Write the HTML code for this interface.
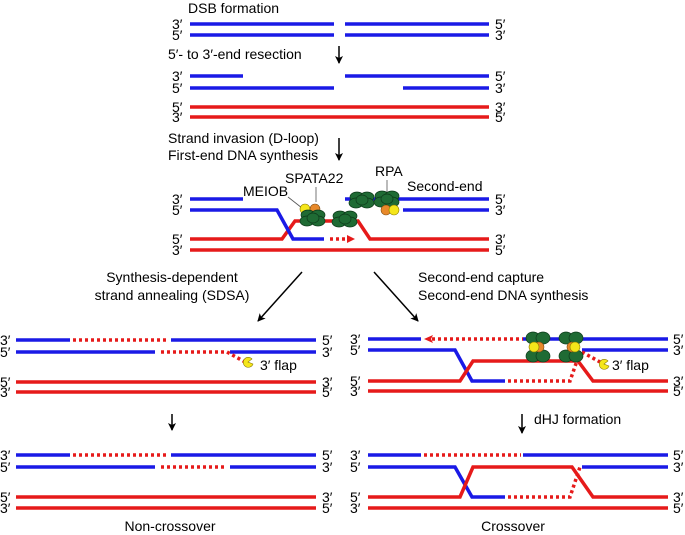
<!DOCTYPE html>
<html><head><meta charset="utf-8"><style>
html,body{margin:0;padding:0;background:#fff;}
svg{display:block;font-family:"Liberation Sans",sans-serif;font-size:14px;}
</style></head><body>
<svg width="685" height="535" viewBox="0 0 685 535" xmlns="http://www.w3.org/2000/svg">
<defs>
<marker id="ah" markerWidth="8" markerHeight="8" refX="7" refY="4" orient="auto" markerUnits="userSpaceOnUse">
<path d="M0,0 L8,4 L0,8 L2,4 Z" fill="#000"/></marker>
<g id="gr">
<ellipse cx="-5" cy="-3" rx="7" ry="5" fill="#1f6b34" stroke="#0d3a1a" stroke-width="0.7"/>
<ellipse cx="5" cy="-3" rx="7" ry="5" fill="#1f6b34" stroke="#0d3a1a" stroke-width="0.7"/>
<ellipse cx="-6" cy="3" rx="7" ry="5" fill="#1f6b34" stroke="#0d3a1a" stroke-width="0.7"/>
<ellipse cx="5" cy="3" rx="7" ry="5" fill="#1f6b34" stroke="#0d3a1a" stroke-width="0.7"/>
<ellipse cx="0" cy="0" rx="6" ry="5" fill="#1f6b34" stroke="#0d3a1a" stroke-width="0.7"/>
</g>
<g id="cl">
<ellipse cx="-5" cy="-9" rx="7" ry="6" fill="#1f6b34" stroke="#0d3a1a" stroke-width="0.7"/>
<ellipse cx="5" cy="-9" rx="7" ry="6" fill="#1f6b34" stroke="#0d3a1a" stroke-width="0.7"/>
<ellipse cx="-5" cy="9" rx="7" ry="6" fill="#1f6b34" stroke="#0d3a1a" stroke-width="0.7"/>
<ellipse cx="5" cy="9" rx="7" ry="6" fill="#1f6b34" stroke="#0d3a1a" stroke-width="0.7"/>
<circle cx="1" cy="0" r="5" fill="#e8892a" stroke="#7a4a10" stroke-width="0.6"/>
</g>
</defs>
<g fill="#000">
<text x="188" y="13">DSB formation</text>
<text x="168" y="59">5′- to 3′-end resection</text>
<text x="168" y="143">Strand invasion (D-loop)</text>
<text x="168" y="160">First-end DNA synthesis</text>
<text x="243" y="196">MEIOB</text>
<text x="285" y="183">SPATA22</text>
<text x="375" y="176">RPA</text>
<text x="407" y="191">Second-end</text>
<text x="172" y="282" text-anchor="middle">Synthesis-dependent</text>
<text x="172" y="300" text-anchor="middle">strand annealing (SDSA)</text>
<text x="418" y="282">Second-end capture</text>
<text x="418" y="300">Second-end DNA synthesis</text>
<text x="260" y="370">3′ flap</text>
<text x="612" y="370">3′ flap</text>
<text x="534" y="424">dHJ formation</text>
<text x="170" y="531" text-anchor="middle">Non-crossover</text>
<text x="513" y="531" text-anchor="middle">Crossover</text>
</g>
<g fill="#000">
<text x="172" y="29">3′</text><text x="172" y="40">5′</text><text x="495" y="29">5′</text><text x="495" y="40">3′</text>
<text x="172" y="81">3′</text><text x="172" y="93">5′</text><text x="172" y="112">5′</text><text x="172" y="122">3′</text>
<text x="495" y="81">5′</text><text x="495" y="93">3′</text><text x="495" y="112">3′</text><text x="495" y="122">5′</text>
<text x="172" y="204">3′</text><text x="172" y="215">5′</text><text x="172" y="244">5′</text><text x="172" y="255">3′</text>
<text x="495" y="204">5′</text><text x="495" y="215">3′</text><text x="495" y="244">3′</text><text x="495" y="255">5′</text>
<text x="0" y="345">3′</text><text x="0" y="357">5′</text><text x="0" y="387">5′</text><text x="0" y="397">3′</text>
<text x="322" y="345">5′</text><text x="322" y="357">3′</text><text x="322" y="387">3′</text><text x="322" y="397">5′</text>
<text x="0" y="460">3′</text><text x="0" y="472">5′</text><text x="0" y="502">5′</text><text x="0" y="513">3′</text>
<text x="322" y="460">5′</text><text x="322" y="472">3′</text><text x="322" y="502">3′</text><text x="322" y="513">5′</text>
<text x="350" y="344">3′</text><text x="350" y="355">5′</text><text x="350" y="386">5′</text><text x="350" y="396">3′</text>
<text x="673" y="344">5′</text><text x="673" y="355">3′</text><text x="673" y="386">3′</text><text x="673" y="396">5′</text>
<text x="350" y="460">3′</text><text x="350" y="472">5′</text><text x="350" y="502">5′</text><text x="350" y="513">3′</text>
<text x="673" y="460">5′</text><text x="673" y="472">3′</text><text x="673" y="502">3′</text><text x="673" y="513">5′</text>
</g>
<g stroke="#000" stroke-width="1.5" fill="none">
<line x1="339" y1="46" x2="339" y2="63" marker-end="url(#ah)"/>
<line x1="339" y1="138" x2="339" y2="160" marker-end="url(#ah)"/>
<line x1="302" y1="272" x2="258" y2="321" marker-end="url(#ah)"/>
<line x1="374" y1="272" x2="418" y2="321" marker-end="url(#ah)"/>
<line x1="172" y1="414" x2="172" y2="430" marker-end="url(#ah)"/>
<line x1="522" y1="414" x2="522" y2="433" marker-end="url(#ah)"/>
</g>
<g stroke-width="3.5" fill="none">
<g stroke="#1a1ae6">
<line x1="190" y1="24" x2="334" y2="24"/><line x1="345" y1="24" x2="489" y2="24"/>
<line x1="190" y1="35" x2="334" y2="35"/><line x1="345" y1="35" x2="489" y2="35"/>
<line x1="190" y1="76" x2="243" y2="76"/><line x1="345" y1="76" x2="489" y2="76"/>
<line x1="190" y1="88" x2="334" y2="88"/><line x1="403" y1="88" x2="489" y2="88"/>
<line x1="190" y1="199" x2="243" y2="199"/><line x1="345" y1="199" x2="489" y2="199"/>
<line x1="403" y1="210" x2="489" y2="210"/>
</g>
<g stroke="#e61a1a">
<line x1="190" y1="107" x2="489" y2="107"/><line x1="190" y1="117" x2="489" y2="117"/>
<polyline points="190,239 282,239 295,221 358,221 370,239 489,239"/>
<line x1="190" y1="250" x2="489" y2="250"/>
</g>
<polyline stroke="#1a1ae6" points="190,210 277,210 293,239 324,239"/>
<line x1="330" y1="239" x2="348" y2="239" stroke="#e61a1a" stroke-dasharray="3,3"/>
<path d="M347,235 L355,239 L347,243 Z" fill="#e61a1a" stroke="none"/>
<g stroke="#1a1ae6">
<line x1="16" y1="340" x2="70" y2="340"/><line x1="171" y1="340" x2="316" y2="340"/>
<line x1="16" y1="352" x2="155" y2="352"/><line x1="230" y1="352" x2="316" y2="352"/>
<line x1="16" y1="455" x2="70" y2="455"/><line x1="171" y1="455" x2="316" y2="455"/>
<line x1="16" y1="467" x2="155" y2="467"/><line x1="230" y1="467" x2="316" y2="467"/>
</g>
<g stroke="#e61a1a">
<line x1="16" y1="382" x2="316" y2="382"/><line x1="16" y1="392" x2="316" y2="392"/>
<line x1="16" y1="497" x2="316" y2="497"/><line x1="16" y1="508" x2="316" y2="508"/>
</g>
<g stroke="#e61a1a" stroke-dasharray="3,3">
<line x1="73" y1="340" x2="167" y2="340"/>
<polyline points="161,352 227,352 245,362"/>
<line x1="73" y1="455" x2="167" y2="455"/>
<line x1="161" y1="467" x2="224" y2="467"/>
</g>
<g stroke="#1a1ae6">
<line x1="368" y1="339" x2="421" y2="339"/><line x1="523" y1="339" x2="668" y2="339"/>
<polyline points="368,350 455,350 472,381 505,381"/><line x1="582" y1="350" x2="668" y2="350"/>
<line x1="368" y1="455" x2="421" y2="455"/><line x1="523" y1="455" x2="668" y2="455"/>
<polyline points="368,467 455,467 472,497 505,497"/><line x1="582" y1="467" x2="668" y2="467"/>
</g>
<g stroke="#e61a1a">
<polyline points="368,381 460,381 473,361 578,361 593,381 668,381"/>
<line x1="368" y1="391" x2="668" y2="391"/>
<polyline points="368,497 460,497 473,467 572,467 593,497 668,497"/>
<line x1="368" y1="508" x2="668" y2="508"/>
</g>
<g stroke="#e61a1a" stroke-dasharray="3,3">
<line x1="432" y1="339" x2="523" y2="339"/>
<polyline points="508,381 570,381 580,352"/>
<polyline points="582,352 600,362"/>
<line x1="424" y1="455" x2="521" y2="455"/>
<polyline points="508,497 570,497 580,467"/>
</g>
<path d="M424,339 L433,335 L431,339 L433,343 Z" fill="#e61a1a" stroke="none"/>
</g>
<g stroke="#555" stroke-width="0.8">
<line x1="288" y1="197" x2="302" y2="208"/><line x1="316" y1="187" x2="316" y2="202"/><line x1="387" y1="180" x2="387" y2="194"/>
</g>
<circle cx="305" cy="209" r="5" fill="#f5e61a" stroke="#8a7a00" stroke-width="0.6"/>
<circle cx="315" cy="209" r="5" fill="#e8892a" stroke="#7a4a10" stroke-width="0.6"/>
<use href="#gr" x="313" y="218"/>
<use href="#gr" x="345" y="219"/>
<use href="#gr" x="362" y="200"/>
<use href="#gr" x="387" y="199"/>
<circle cx="386" cy="210" r="5" fill="#e8892a" stroke="#7a4a10" stroke-width="0.6"/>
<circle cx="394" cy="210" r="5" fill="#f5e61a" stroke="#8a7a00" stroke-width="0.6"/>
<use href="#cl" x="538" y="347"/>
<circle cx="534" cy="347" r="5" fill="#f5e61a" stroke="#8a7a00" stroke-width="0.6"/>
<use href="#cl" x="571" y="347"/>
<circle cx="575" cy="347" r="5" fill="#f5e61a" stroke="#8a7a00" stroke-width="0.6"/>
<path d="M248,362 m4,-3 A5,5 0 1 0 253,364 L248,362 Z" fill="#f5e61a" stroke="#8a7a00" stroke-width="0.6"/>
<path d="M604,364 m4,-3 A5,5 0 1 0 609,366 L604,364 Z" fill="#f5e61a" stroke="#8a7a00" stroke-width="0.6"/>
</svg>
</body></html>
